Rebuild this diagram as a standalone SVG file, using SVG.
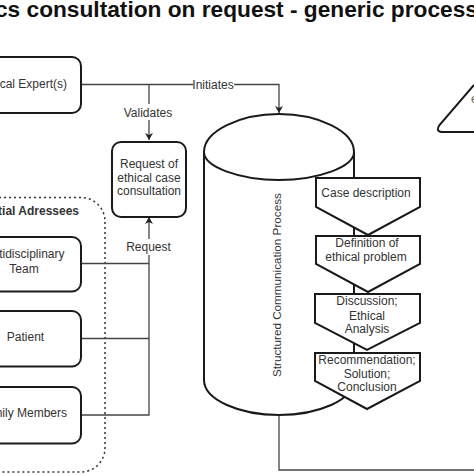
<svg xmlns="http://www.w3.org/2000/svg" width="474" height="474" viewBox="0 0 474 474">
<style>
text{font-family:"Liberation Sans",Arial,sans-serif;font-size:12px;fill:#333;text-anchor:middle}
.title{font-size:22.700px;font-weight:bold;fill:#111;text-anchor:start}
.end{text-anchor:end}
.box{fill:#fff;stroke:#1a1a1a;stroke-width:2}
.line{fill:none;stroke:#444;stroke-width:1.3}
.lab{fill:#fff;stroke:none}
</style>
<defs><marker id="arr" markerWidth="8" markerHeight="8" refX="7" refY="4" orient="auto" markerUnits="userSpaceOnUse"><path d="M0,0L7,4L0,8L2,4Z" fill="#222"/></marker></defs>
<text class="title" x="-5" y="17">cs consultation on request - generic process</text>
<g id="adressees"><rect x="-60" y="197.500" width="165" height="274.500" rx="24" fill="none" stroke="#333" stroke-width="1.5" stroke-dasharray="2 3"/><text class="end" x="79" y="215" style="font-weight:bold">ntial Adressees</text></g>
<g id="connectors">
<path class="line" d="M81,84.500H279V113" marker-end="url(#arr)"/>
<path class="line" d="M149,84.500V140" marker-end="url(#arr)"/>
<path class="line" d="M81,263.500H149M81,338.500H149M81,415H149V217" marker-end="url(#arr)"/>
<path class="line" d="M279,415V470H474"/>
<rect class="lab" x="120" y="104" width="58" height="16"/><text x="148" y="117">Validates</text>
<rect class="lab" x="193" y="77" width="41" height="15"/><text x="213" y="89">Initiates</text>
<rect class="lab" x="124" y="239" width="50" height="16"/><text x="148.500" y="251">Request</text>
</g>
<g id="expert"><rect class="box" x="-30" y="57" width="111" height="56" rx="9"/><text class="end" x="67" y="88">ical Expert(s)</text></g>
<g id="request"><rect class="box" x="112" y="142" width="74" height="75" rx="9"/><text x="149" y="168">Request of</text><text x="149" y="182">ethical case</text><text x="149" y="195">consultation</text></g>
<g id="team"><rect class="box" x="-30" y="237" width="111" height="54.500" rx="9"/><text class="end" x="64.500" y="258">ltidisciplinary</text><text x="24" y="273">Team</text></g>
<g id="patient"><rect class="box" x="-30" y="311" width="111" height="55.500" rx="9"/><text x="25.500" y="341">Patient</text></g>
<g id="family"><rect class="box" x="-30" y="387" width="111" height="56.500" rx="9"/><text class="end" x="67" y="417">nily Members</text></g>
<g id="cylinder"><path class="box" d="M204,152V380C204,400 240,415 279,415C318,415 354,400 354,380V152C354,131 318,114 279,114C240,114 204,131 204,152C204,167 240,180 279,180C318,180 354,167 354,152"/><text transform="translate(281,377) rotate(-90)" style="text-anchor:start;font-size:11.700px">Structured Communication Process</text></g>
<g id="triangle"><path class="box" d="M474,85L439.500,125Q435,132 443,132H474"/><text x="471" y="103" style="text-anchor:start;fill:#666">e</text></g>
<g id="case"><path class="box" d="M316,178H420V207L368,235L316,207Z"/><text x="366" y="197">Case description</text></g>
<g id="definition"><path class="box" d="M316,236H420V264L368,292L316,264Z"/><text x="367" y="247">Definition of</text><text x="366" y="261">ethical problem</text></g>
<g id="discussion"><path class="box" d="M315,294H420V323L367,350L315,323Z"/><text x="367" y="305">Discussion;</text><text x="367" y="320">Ethical</text><text x="367" y="333">Analysis</text></g>
<g id="recommendation"><path class="box" d="M315,353H420V381L367,409L315,381Z"/><text x="367" y="364">Recommendation;</text><text x="367" y="378">Solution;</text><text x="367" y="391">Conclusion</text></g>
</svg>
